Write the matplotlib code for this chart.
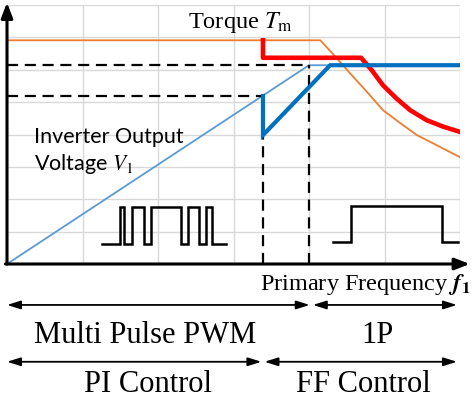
import matplotlib
matplotlib.use("Agg")
import matplotlib.pyplot as plt

plt.rcParams['mathtext.fontset'] = 'stix'

# ---- data (grid units: x = primary frequency, y = magnitude) ----
v_thin_f = [0.0, 4.0, 6.0]
v_thin = [0.0, 6.14, 6.14]

v_thick_f = [3.39, 3.39, 4.28, 6.0]
v_thick = [5.19, 3.98, 6.14, 6.14]

torque_f = [0.0, 4.15, 4.32, 4.54, 4.77, 4.98, 5.21, 5.43, 5.64, 6.0]
torque = [6.91, 6.91, 6.48, 5.90, 5.31, 4.75, 4.35, 3.98, 3.73, 3.30]

red_f = [3.39, 3.39, 4.69, 4.83, 4.98, 5.16, 5.34, 5.56, 5.78, 6.0]
red = [6.91, 6.37, 6.37, 5.99, 5.52, 5.11, 4.75, 4.44, 4.24, 4.08]

dash_hi = 6.14
dash_lo = 5.19
f_hi = 4.0
f_lo = 3.39
f_lo_bottom = 3.98

# PWM pulse icon (multi pulse) : baseline and pulse edges
pwm_base = [1.26, 2.90]
pwm_level = [0.62, 1.76]
pwm_pulses = [(1.50, 1.55), (1.66, 1.81), (1.91, 2.30), (2.40, 2.54), (2.64, 2.72)]
# 1P icon
p1_base = [4.32, 5.97]
p1_level = [0.68, 1.79]
p1_pulses = [(4.56, 5.76)]

W, H = 474, 398
fig = plt.figure(figsize=(W / 100, H / 100), dpi=100)
ax = fig.add_axes([7 / W, 1 - 264 / H, (460 - 7) / W, (264 - 5) / H])
ax.set_xlim(0, 6)
ax.set_ylim(0, 8)
ax.set_xticks(range(0, 7))
ax.set_yticks(range(0, 9))
ax.tick_params(length=0, labelbottom=False, labelleft=False)
ax.grid(True, color='#D9D9D9', lw=1.0)
ax.set_axisbelow(True)
for s in ax.spines.values():
    s.set_visible(False)

# curves
ax.plot(v_thin_f, v_thin, color='#5B9BD5', lw=1.3, zorder=3)
ax.plot(torque_f, torque, color='#ED7D31', lw=1.3, zorder=3)
ax.plot([0, f_hi], [dash_hi, dash_hi], color='black', lw=1.6, ls=(0, (5, 3)), zorder=4)
ax.plot([f_hi, f_hi], [0, dash_hi], color='black', lw=1.6, ls=(0, (5, 3)), zorder=4)
ax.plot([0, f_lo], [dash_lo, dash_lo], color='black', lw=1.6, ls=(0, (5, 3)), zorder=4)
ax.plot([f_lo, f_lo], [0, f_lo_bottom], color='black', lw=1.6, ls=(0, (5, 3)), zorder=4)
ax.plot(red_f, red, color='#FF0000', lw=3.3, zorder=5, solid_joinstyle='round')
ax.plot(v_thick_f, v_thick, color='#0070C0', lw=3.0, zorder=6, solid_joinstyle='miter')


def pulse_path(base, level, pulses):
    xs = [base[0]]
    ys = [level[0]]
    for a, b in pulses:
        xs += [a, a, b, b]
        ys += [level[0], level[1], level[1], level[0]]
    xs.append(base[1])
    ys.append(level[0])
    return xs, ys


for base, level, pulses in [(pwm_base, pwm_level, pwm_pulses), (p1_base, p1_level, p1_pulses)]:
    xs, ys = pulse_path(base, level, pulses)
    ax.plot(xs, ys, color='black', lw=1.8, zorder=6, solid_joinstyle='miter')

# axes arrows
ax.annotate('', xy=(0, 8.07), xytext=(0, 0), annotation_clip=False,
            arrowprops=dict(arrowstyle='-|>,head_length=0.9,head_width=0.35', lw=2.2,
                            color='black', shrinkA=0, shrinkB=0, mutation_scale=10))
ax.annotate('', xy=(6.13, 0), xytext=(-0.02, 0), annotation_clip=False,
            arrowprops=dict(arrowstyle='-|>,head_length=0.9,head_width=0.35', lw=2.2,
                            color='black', shrinkA=0, shrinkB=0, mutation_scale=10))

# bottom range arrows
def darrow(x0, x1, y):
    ax.annotate('', xy=(x1, y), xytext=(x0, y), annotation_clip=False,
                arrowprops=dict(arrowstyle='<|-|>,head_length=0.8,head_width=0.25', lw=1.3,
                                color='black', shrinkA=0, shrinkB=0, mutation_scale=10))

row1 = -1.265
row2 = -3.02
darrow(0.0, 4.01, row1)
darrow(4.05, 5.96, row1)
darrow(0.0, 3.37, row2)
darrow(3.41, 5.96, row2)


def ptext(x, y, s, **kw):
    fig.text(x / W, 1 - y / H, s, va='baseline', **kw)


serif = 'Liberation Serif'
ptext(188, 28, r'Torque $T_\mathrm{m}$', family=serif, fontsize=17.5)
ptext(34, 143, 'Inverter Output', family='Lato', fontsize=15.5)
ptext(34, 170, r'Voltage $V_1$', family='Lato', fontsize=15.5)
ptext(260, 290, r'Primary Frequency $\mathbfit{f}_\mathbf{1}$', family=serif, fontsize=17.5)
ptext(145, 343, 'Multi Pulse PWM', family=serif, fontsize=22, ha='center')
ptext(377, 343, '1P', family=serif, fontsize=22, ha='center')
ptext(148, 392, 'PI Control', family=serif, fontsize=22, ha='center')
ptext(363, 392, 'FF Control', family=serif, fontsize=22, ha='center')

fig.savefig('out.png', dpi=100)
